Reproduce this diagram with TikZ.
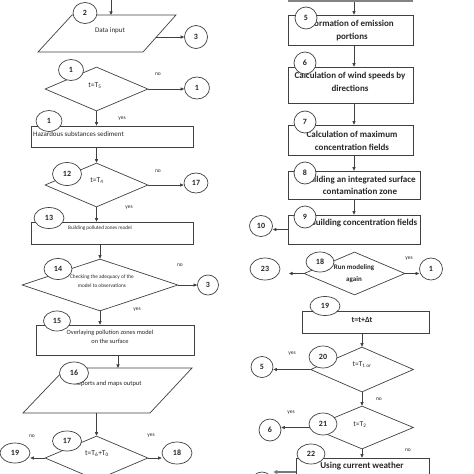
\documentclass[tikz,border=0pt]{standalone}
\usepackage{fontspec}
\setmainfont{Carlito}
\usetikzlibrary{shapes.geometric,arrows.meta}
\definecolor{lc}{HTML}{404040}
\definecolor{tc}{HTML}{262626}
\begin{document}
\begin{tikzpicture}[x=1pt,y=-1pt,
  line/.style={draw=lc,line width=0.7pt},
  arr/.style={line,-{Triangle[length=3.6pt,width=3.2pt]}},
  arrthick/.style={draw=lc!70,line width=2pt,-{Triangle[length=4pt,width=4pt]}},
  box/.style={rectangle,line,inner sep=0pt},
  dia/.style={diamond,line,inner sep=0pt},
  circ/.style={ellipse,line,fill=white,inner sep=0pt,text=tc,font=\fontsize{8}{9}\selectfont\bfseries},
  ltxt/.style={inner sep=0pt,text=tc,align=center},
  yn/.style={inner sep=0pt,text=tc,font=\fontsize{5.5}{6}\selectfont}
]
\useasboundingbox (0,0) rectangle (474,474);

% ===== left column =====
\coordinate (p2a) at (72,15); \coordinate (p2b) at (176,15);
\coordinate (p2c) at (143,52); \coordinate (p2d) at (38,52);
\coordinate (p2t) at (111,15); \coordinate (p2r) at (155.5,37);
\coordinate (inL) at (111,-2);
\draw[line] (p2a) -- (p2b) -- (p2c) -- (p2d) -- cycle;
\node[ltxt,font=\fontsize{7}{8}\selectfont] (t2) at (110,31) {Data input};

\node[dia,minimum width=103pt,minimum height=44pt,aspect=2.34] (dT5) at (96.5,89) {};
\node[ltxt,font=\fontsize{7.5}{8}\selectfont] (tT5) at (95,86) {t=T\textsubscript{5}};

\node[box,minimum width=162pt,minimum height=21pt] (rH) at (112,136.5) {};
\node[inner sep=0pt,text=tc,anchor=west,font=\fontsize{7}{8}\selectfont] (tH) at (33,134.5) {Hazardous substances sediment};

\node[dia,minimum width=103pt,minimum height=44pt,aspect=2.34] (dT4) at (96.5,185) {};
\node[ltxt,font=\fontsize{7.5}{8}\selectfont] (tT4) at (97,181) {t=T\textsubscript{4}};

\node[box,minimum width=162pt,minimum height=22pt] (r13) at (112,233) {};
\node[ltxt,font=\fontsize{5.2}{6}\selectfont] (t13) at (100,228.5) {Building polluted zones model};

\node[dia,minimum width=156pt,minimum height=52pt,aspect=3] (dCh) at (100,285) {};
\node[ltxt,font=\fontsize{5.3}{9}\selectfont] (tCh) at (102,281.5) {Checking the adequacy of the\\model to observations};

\node[box,minimum width=158pt,minimum height=30pt] (r15) at (115,340) {};
\node[ltxt,font=\fontsize{6.4}{9}\selectfont] (t15) at (110,336.5) {Overlaying pollution zones model\\on the surface};

\coordinate (p16a) at (66,368); \coordinate (p16b) at (192,368);
\coordinate (p16c) at (150,413); \coordinate (p16d) at (23,413);
\coordinate (p16t) at (118,368); \coordinate (p16bot) at (96.5,413);
\draw[line] (p16a) -- (p16b) -- (p16c) -- (p16d) -- cycle;
\node[ltxt,font=\fontsize{6.5}{8}\selectfont] (t16) at (108,384) {Reports and maps output};

\node[dia,minimum width=103pt,minimum height=44pt,aspect=2.34] (dT6) at (96.5,458) {};
\node[ltxt,font=\fontsize{7.5}{8}\selectfont] (tT6) at (97,454) {t=T\textsubscript{6}+T\textsubscript{0}};

% ===== right column =====
\node[rectangle,fill=lc!65,inner sep=0pt,minimum width=125pt,minimum height=6pt] (rtop) at (350.5,-1) {};
\coordinate (xr) at (354,0);
\node[box,minimum width=125pt,minimum height=30pt] (r5) at (350.5,30) {};
\node[box,minimum width=125pt,minimum height=36pt] (r6) at (350.5,85) {};
\node[box,minimum width=125pt,minimum height=30pt] (r7) at (350.5,140) {};
\node[box,minimum width=132pt,minimum height=28pt] (r8) at (354,185) {};
\node[box,minimum width=132pt,minimum height=29pt] (r9) at (354,229.5) {};
\node[ltxt,font=\fontsize{9}{13}\selectfont\bfseries] (t5) at (352,30.5) {Formation of emission\\portions};
\node[ltxt,font=\fontsize{9}{13}\selectfont\bfseries] (t6) at (350,81.5) {Calculation of wind speeds by\\directions};
\node[ltxt,font=\fontsize{9}{13}\selectfont\bfseries] (t7) at (352,140.5) {Calculation of maximum\\concentration fields};
\node[ltxt,font=\fontsize{9}{12}\selectfont\bfseries] (t8) at (360,185) {Building an integrated surface\\contamination zone};
\node[ltxt,font=\fontsize{9}{12}\selectfont\bfseries] (t9) at (364,223.5) {Building concentration fields};

\node[dia,minimum width=101pt,minimum height=43pt,aspect=2.35] (d18) at (354.5,273.5) {};
\node[ltxt,font=\fontsize{7}{12}\selectfont\bfseries] (t18) at (354,274) {Run modeling\\again};

\coordinate (xs) at (362,0);
\node[box,minimum width=127pt,minimum height=22pt] (r19) at (365.5,322) {};
\node[ltxt,font=\fontsize{8}{9}\selectfont\bfseries] (t19) at (362,320) {t=t+Δt};

\node[dia,minimum width=103pt,minimum height=45pt,aspect=2.29] (d20) at (362,369.5) {};
\node[ltxt,font=\fontsize{7.5}{8}\selectfont] (t20) at (362,365) {t=T\textsubscript{1 or}};

\node[dia,minimum width=103pt,minimum height=43pt,aspect=2.4] (d21) at (362,427.5) {};
\node[ltxt,font=\fontsize{7.5}{8}\selectfont] (t21) at (360,425) {t=T\textsubscript{2}};

\node[box,minimum width=133pt,minimum height=34pt] (r22) at (362.5,475) {};
\node[ltxt,font=\fontsize{9}{10}\selectfont\bfseries] (t22) at (362,466.5) {Using current weather};
\coordinate (a22) at (296,472);
\coordinate (e23) at (289,273.5);

% ===== circles =====
\node[circ,minimum width=24pt,minimum height=21pt] (c2) at (85,13) {2};
\node[circ,minimum width=23pt,minimum height=23pt] (c3a) at (196,37) {3};
\node[circ,minimum width=25pt,minimum height=21pt] (c1a) at (71,70) {1};
\node[circ,minimum width=25pt,minimum height=22pt] (c1b) at (197,88) {1};
\node[circ,minimum width=26pt,minimum height=21pt] (c1c) at (49,121) {1};
\node[circ,minimum width=29pt,minimum height=23pt] (c12) at (67,174) {12};
\node[circ,minimum width=24pt,minimum height=20pt] (c17a) at (196,183) {17};
\node[circ,minimum width=30pt,minimum height=21pt] (c13) at (49,218) {13};
\node[circ,minimum width=28pt,minimum height=21pt] (c14) at (58,269) {14};
\node[circ,minimum width=21pt,minimum height=20pt] (c3b) at (208,285) {3};
\node[circ,minimum width=27pt,minimum height=20pt] (c15) at (57,321) {15};
\node[circ,minimum width=29pt,minimum height=22pt] (c16) at (74,373) {16};
\node[circ,minimum width=29pt,minimum height=20pt] (c17b) at (67,441) {17};
\node[circ,minimum width=30pt,minimum height=20pt] (c19a) at (15,453) {19};
\node[circ,minimum width=30pt,minimum height=22pt] (c18a) at (177,453) {18};

\node[circ,minimum width=22pt,minimum height=22pt] (c5a) at (306,18) {5};
\node[circ,minimum width=22pt,minimum height=22pt] (c6a) at (305,63) {6};
\node[circ,minimum width=22pt,minimum height=22pt] (c7) at (305,122) {7};
\node[circ,minimum width=22pt,minimum height=22pt] (c8) at (305,173) {8};
\node[circ,minimum width=22pt,minimum height=22pt] (c9) at (305,217) {9};
\node[circ,minimum width=23pt,minimum height=21pt] (c10) at (261,226) {10};
\node[circ,minimum width=28pt,minimum height=20pt] (c18b) at (320,262) {18};
\node[circ,minimum width=30pt,minimum height=22pt] (c23) at (265,269) {23};
\node[circ,minimum width=23pt,minimum height=22pt] (c1d) at (431,269) {1};
\node[circ,minimum width=30pt,minimum height=19pt] (c19b) at (325,306) {19};
\node[circ,minimum width=28pt,minimum height=22pt] (c20) at (323,357) {20};
\node[circ,minimum width=22pt,minimum height=21pt] (c5b) at (262,367) {5};
\node[circ,minimum width=28pt,minimum height=22pt] (c21) at (323,424) {21};
\node[circ,minimum width=22pt,minimum height=22pt] (c6b) at (270,430) {6};
\node[circ,minimum width=28pt,minimum height=20pt] (c22) at (311,454) {22};
\node[circ,minimum width=22pt,minimum height=22pt] (cbot) at (262,483) {};

% ===== connectors =====
\draw[arr] (inL) -- (p2t);
\draw[arr] (p2r) -- (c3a.west);
\draw[arr] (dT5.east) -- (c1b.west |- dT5.east);
\draw[arr] (dT5.south) -- (dT5.south |- rH.north);
\draw[arr] (dT4.north |- rH.south) -- (dT4.north);
\draw[arr] (dT4.east) -- (c17a.west |- dT4.east);
\draw[arr] (dT4.south) -- (dT4.south |- r13.north);
\draw[arr] (dCh.north |- r13.south) -- (dCh.north);
\draw[arr] (dCh.east) -- (c3b.west);
\draw[arr] (dCh.south) -- (dCh.south |- r15.north);
\draw[arr] (p16t |- r15.south) -- (p16t);
\draw[arr] (p16bot) -- (dT6.north);
\draw[arr] (dT6.west) -- (c19a.east |- dT6.west);
\draw[arr] (dT6.east) -- (c18a.west |- dT6.east);

\draw[arr] (xr |- rtop.south) -- (xr |- r5.north);
\draw[arr] (xr |- r5.south) -- (xr |- r6.north);
\draw[arr] (xr |- r6.south) -- (xr |- r7.north);
\draw[arr] (xr |- r7.south) -- (xr |- r8.north);
\draw[arr] (xr |- r8.south) -- (xr |- r9.north);
\draw[arr] (r9.west) -- (c10.east |- r9.west);
\draw[arr] (d18.west) -- (e23);
\draw[arr] (d18.east) -- (c1d.west |- d18.east);
\draw[arr] (xs |- r19.south) -- (d20.north);
\draw[arr] (d20.west) -- (c5b.east |- d20.west);
\draw[arr] (d20.south) -- (d21.north);
\draw[arr] (d21.west) -- (c6b.east |- d21.west);
\draw[arr] (d21.south) -- (d21.south |- r22.north);
\draw[arrthick] (a22) -- (cbot.east |- a22);

% ===== yes / no =====
\node[yn] (n1) at (158,74) {no};
\node[yn] (y1) at (122,119) {yes};
\node[yn] (n2) at (158,171) {no};
\node[yn] (y2) at (129,208) {yes};
\node[yn] (n3) at (180,265) {no};
\node[yn] (y3) at (137,310) {yes};
\node[yn] (n4) at (32,436) {no};
\node[yn] (y4) at (151,436) {yes};
\node[yn] (y5) at (409,259) {yes};
\node[yn] (y6) at (292,354) {yes};
\node[yn] (n6) at (379,399) {no};
\node[yn] (y7) at (291,413) {yes};
\node[yn] (n7) at (408,450) {no};
\end{tikzpicture}
\end{document}
